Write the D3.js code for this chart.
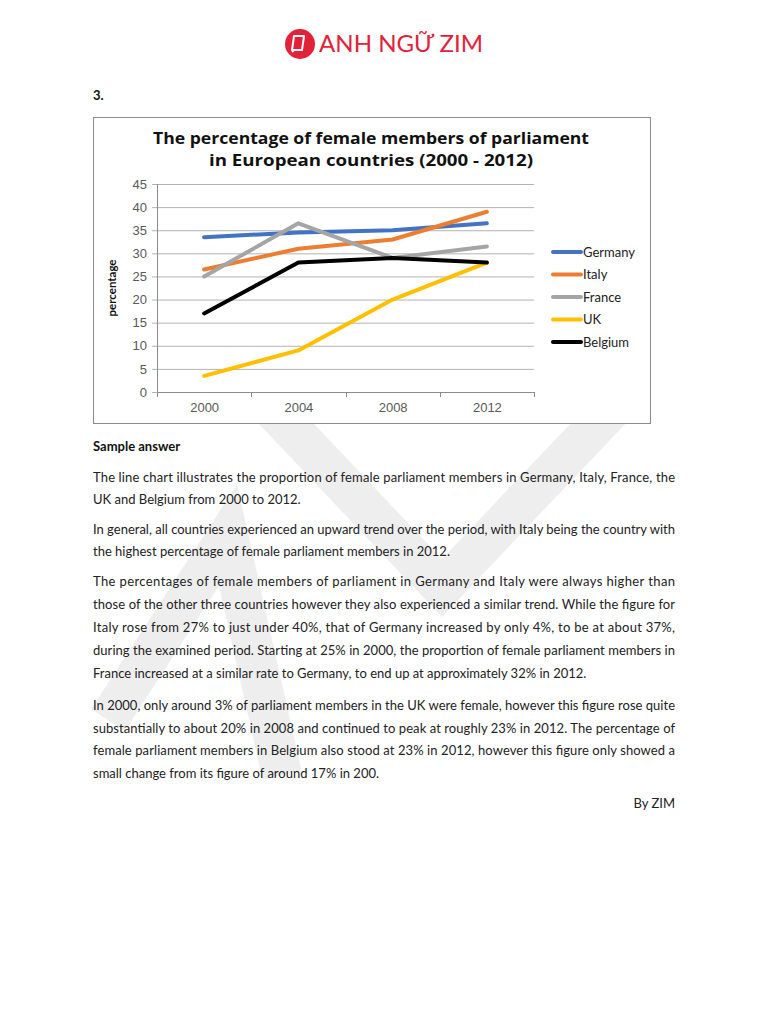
<!DOCTYPE html>
<html><head><meta charset="utf-8">
<script src="https://cdn.jsdelivr.net/npm/d3@7"></script>
<style>
html,body{margin:0;padding:0;background:#fff;}
svg{display:block;}
</style></head>
<body>
<script>
// ---- data ----
const years = ["2000","2004","2008","2012"];
const germany = [33.5, 34.5, 35, 36.5];
const italy   = [26.5, 31, 33, 39];
const france  = [25, 36.5, 29, 31.5];
const uk      = [3.5, 9, 20, 28];
const belgium = [17, 28, 29, 28];
const seriesNames = ["Germany","Italy","France","UK","Belgium"];
const yTicks = [0,5,10,15,20,25,30,35,40,45];
const titleLines = ["The percentage of female members of parliament","in European countries (2000 - 2012)"];
const yTitle = "percentage";
const paragraphs = [
 ["The line chart illustrates the proportion of female parliament members in Germany, Italy, France, the",
  "UK and Belgium from 2000 to 2012."],
 ["In general, all countries experienced an upward trend over the period, with Italy being the country with",
  "the highest percentage of female parliament members in 2012."],
 ["The percentages of female members of parliament in Germany and Italy were always higher than",
  "those of the other three countries however they also experienced a similar trend. While the figure for",
  "Italy rose from 27% to just under 40%, that of Germany increased by only 4%, to be at about 37%,",
  "during the examined period. Starting at 25% in 2000, the proportion of female parliament members in",
  "France increased at a similar rate to Germany, to end up at approximately 32% in 2012."],
 ["In 2000, only around 3% of parliament members in the UK were female, however this figure rose quite",
  "substantially to about 20% in 2008 and continued to peak at roughly 23% in 2012. The percentage of",
  "female parliament members in Belgium also stood at 23% in 2012, however this figure only showed a",
  "small change from its figure of around 17% in 200."]
];

const seriesValues = [germany, italy, france, uk, belgium];
const colors = ["#4472C4","#ED7D31","#A5A5A5","#FFC000","#000000"];

const W = 768, H = 1024;
const svg = d3.select("body").append("svg").attr("width", W).attr("height", H);
svg.append("rect").attr("width", W).attr("height", H).attr("fill", "#fff");

// ---- watermark ----
const wm = svg.append("g").attr("stroke", "#eeeeee").attr("stroke-width", 40).attr("fill", "none")
  .attr("stroke-linejoin", "miter");
wm.append("polyline").attr("points", "108,720 228,535 282,775");
wm.append("polyline").attr("points", "262,398 442,588 628,392");

// ---- header logo ----
svg.append("circle").attr("cx", 300).attr("cy", 44).attr("r", 15).attr("fill", "#e3223a");
svg.append("path").attr("d", "M294,36 h10 l-2,14 h-10 z M294,50 l-2,2").attr("fill", "none")
  .attr("stroke", "#fff").attr("stroke-width", 2).attr("stroke-linejoin", "round");
svg.append("text").attr("x", 319).attr("y", 52).text("ANH NGỮ ZIM")
  .attr("font-family", "Lato, 'Open Sans', sans-serif").attr("font-size", 23).attr("fill", "#e3223a")
  .attr("textLength", 164).attr("lengthAdjust", "spacingAndGlyphs");

svg.append("text").attr("x", 93).attr("y", 100).text("3.")
  .attr("font-family", "Lato, sans-serif").attr("font-weight", "bold").attr("font-size", 13).attr("fill", "#111");

// ---- chart box ----
svg.append("rect").attr("x", 93.5).attr("y", 117.5).attr("width", 557).attr("height", 306)
  .attr("fill", "#fff").attr("stroke", "#8c8c8c").attr("stroke-width", 1);

const titleWidths = [436, 324];
const title = svg.append("g")
  .attr("font-family", "'Open Sans', Lato, sans-serif").attr("font-weight", "bold").attr("font-size", 16.5).attr("fill", "#111");
titleLines.forEach((t, i) => title.append("text").attr("text-anchor", "middle")
  .attr("x", 371).attr("y", 144 + i * 22).text(t)
  .attr("textLength", titleWidths[i]).attr("lengthAdjust", "spacingAndGlyphs"));

const x0 = 157, x1 = 534, yTop = 184, yBot = 392;
const x = d3.scalePoint().domain(years).range([x0, x1]).padding(0.5);
const band = d3.scaleBand().domain(years).range([x0, x1]);
const y = d3.scaleLinear().domain([0, 45]).range([yBot, yTop]);

// gridlines + y labels
const yAxis = d3.axisLeft(y).tickValues(yTicks).tickSize(-(x1 - x0)).tickPadding(10);
const gy = svg.append("g").attr("transform", `translate(${x0},0)`).call(yAxis);
gy.select(".domain").remove();
gy.selectAll(".tick line").attr("stroke", "#b3b3b3").attr("x1", -5);
gy.selectAll(".tick text").attr("font-family", "'Liberation Sans', Arial, sans-serif").attr("font-size", 13).attr("fill", "#595959");

// y axis line
svg.append("line").attr("x1", x0 + 0.5).attr("x2", x0 + 0.5).attr("y1", yTop).attr("y2", yBot).attr("stroke", "#8c8c8c");

// x axis
const xAxis = d3.axisBottom(x).tickSize(0).tickPadding(11);
const gx = svg.append("g").attr("transform", `translate(0,${yBot})`).call(xAxis);
gx.select(".domain").attr("stroke", "#8c8c8c");
gx.selectAll(".tick text").attr("font-family", "'Liberation Sans', Arial, sans-serif").attr("font-size", 13).attr("fill", "#595959");
const bounds = years.map(d => band(d)).concat([x1]);
svg.append("g").selectAll("line").data(bounds).join("line")
  .attr("x1", d => Math.round(d) + 0.5).attr("x2", d => Math.round(d) + 0.5)
  .attr("y1", yBot).attr("y2", yBot + 5).attr("stroke", "#8c8c8c");

// y title
svg.append("text").attr("transform", "translate(116,288) rotate(-90)").attr("text-anchor", "middle")
  .attr("font-family", "Lato, sans-serif").attr("font-weight", "bold").attr("font-size", 11.5).attr("fill", "#111")
  .text(yTitle);

// lines
const line = d3.line().x((d, i) => x(years[i])).y(d => y(d));
svg.append("g").selectAll("path").data(seriesValues).join("path")
  .attr("d", d => line(d)).attr("fill", "none")
  .attr("stroke", (d, i) => colors[i]).attr("stroke-width", 4)
  .attr("stroke-linejoin", "round").attr("stroke-linecap", "round");

// legend
const lg = svg.append("g").selectAll("g").data(seriesNames).join("g")
  .attr("transform", (d, i) => `translate(553,${252 + i * 22.5})`);
lg.append("line").attr("x1", 0).attr("x2", 28).attr("stroke", (d, i) => colors[i]).attr("stroke-width", 4).attr("stroke-linecap", "round");
lg.append("text").attr("x", 30).attr("y", 4.5).text(d => d)
  .attr("font-family", "Lato, sans-serif").attr("font-size", 13).attr("fill", "#222");

// ---- body text ----
const tf = "Lato, 'Open Sans', sans-serif";
svg.append("text").attr("x", 93).attr("y", 451).text("Sample answer")
  .attr("font-family", tf).attr("font-weight", "bold").attr("font-size", 13).attr("fill", "#111");

const paraTop = [482, 534, 586, 710];
const lineGap = [22, 22, 23, 22.7];
paragraphs.forEach((p, pi) => {
  p.forEach((ln, li) => {
    const t = svg.append("text").attr("x", 93).attr("y", paraTop[pi] + li * lineGap[pi]).text(ln)
      .attr("font-family", tf).attr("font-size", 13).attr("fill", "#222");
    if (li < p.length - 1) t.attr("textLength", 582).attr("lengthAdjust", "spacing");
  });
});
svg.append("text").attr("x", 675).attr("y", 808).attr("text-anchor", "end").text("By ZIM")
  .attr("font-family", tf).attr("font-size", 13).attr("fill", "#222");
</script>
</body></html>
